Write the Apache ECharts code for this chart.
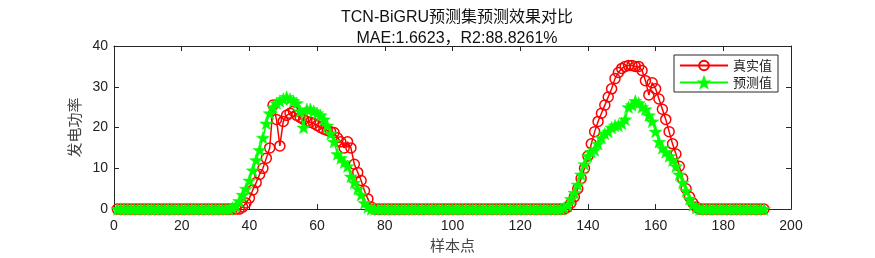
<!DOCTYPE html>
<html>
<head>
<meta charset="utf-8">
<script src="https://cdn.jsdelivr.net/npm/echarts@6/dist/echarts.min.js"></script>
<style>html,body{margin:0;padding:0;background:#fff}#c{width:875px;height:258px}</style>
</head>
<body>
<div id="c"></div>
<script>
const titleText = 'TCN-BiGRU预测集预测效果对比';
const subText = 'MAE:1.6623，R2:88.8261%';
const xName = '样本点';
const yName = '发电功率';
const seriesNames = ['真实值', '预测值'];
const xTicks = [0, 20, 40, 60, 80, 100, 120, 140, 160, 180, 200];
const yTicks = [0, 10, 20, 30, 40];

const trueVals = [
  0,0,0,0,0,0,0,0,0,0, 0,0,0,0,0,0,0,0,0,0, 0,0,0,0,0,0,0,0,0,0, 0,0,0,0,0,0,0,
  0.5,1.5,2.7,4.7,6.5,8.5,10,12.5,15,25.5,22,15.5,21.5,23,23.5,24,23,22.5,22,21.5,
  21.3,21,20.5,20,19.6,19.3,19,18.8,17.5,16.5,15,16.5,15,11,9,7,4.5,2.5,0.5,
  0,0,0,0,0,0,0,0,0,0, 0,0,0,0,0,0,0,0,0,0, 0,0,0,0,0,0,0,0,0,0, 0,0,0,0,0,0,0,0,0,0, 0,0,0,0,0,0,0,0,0,0, 0,0,0,0,0,0,0,
  0.5,1.5,3,5,7.5,10,13,16,19,21.5,23.5,25.5,27.5,29.5,32,33.5,34.5,35,35.2,35.2,
  35,35,34,31.5,28,31,29.5,27,24.5,22,19,16,13.5,10.5,7.5,5,3,1.5,0.5,
  0,0,0,0,0,0,0,0,0,0, 0,0,0,0,0,0,0,0,0,0
];
const predVals = [
  0,0,0,0,0,0,0,0,0,0, 0,0,0,0,0,0,0,0,0,0, 0,0,0,0,0,0,0,0,0,0, 0,0,0,0,
  0.3,0.8,2,3.5,5,7,9.5,12,14.5,17.5,21,23.5,25,26,26.5,27,27.5,27,26.5,26,
  24,20,24.5,24.5,24,23.5,23,22,20.5,18.5,16.5,13.5,12.5,11.5,10.5,8,6.5,5,3.5,1.5,0.5,
  0,0,0,0,0,0,0,0,0,0, 0,0,0,0,0,0,0,0,0,0, 0,0,0,0,0,0,0,0,0,0, 0,0,0,0,0,0,0,0,0,0, 0,0,0,0,0,0,0,0,0,0, 0,0,0,0,0,0,0,
  0.3,1,2.5,4,6,8.5,11,13,14,14.5,16,17.5,18.5,19,20,20.5,20.5,21,22,25,
  25.5,26.5,26,25,24.5,23,21.5,19,16.5,15,14,13,12,10.5,8.5,6.5,4.5,2.5,1,0.3,
  0,0,0,0,0,0,0,0,0,0, 0,0,0,0,0,0,0,0,0,0
];

const toPts = arr => arr.map((v, i) => [i + 1, v]);
const axisColor = '#262626';
const starPath = 'path://M0,-10L2.35,-3.24L9.51,-3.09L3.8,1.24L5.88,8.09L0,4L-5.88,8.09L-3.8,1.24L-9.51,-3.09L-2.35,-3.24Z';
const font = '"Liberation Sans", Arial, "Noto Sans CJK SC", sans-serif';
const cjk = '"Noto Sans CJK SC", sans-serif';

const chart = echarts.init(document.getElementById('c'), null, {renderer: 'canvas'});
const xBase = {
  type: 'value', min: xTicks[0], max: xTicks[xTicks.length - 1], interval: 20,
  axisLine: {show: true, onZero: false, lineStyle: {color: axisColor, width: 1}},
  axisTick: {show: true, inside: true, length: 5, lineStyle: {color: axisColor}},
  splitLine: {show: false}
};
const yBase = {
  type: 'value', min: yTicks[0], max: yTicks[yTicks.length - 1], interval: 10,
  axisLine: {show: true, onZero: false, lineStyle: {color: axisColor, width: 1}},
  axisTick: {show: true, inside: true, length: 5, lineStyle: {color: axisColor}},
  splitLine: {show: false}
};
chart.setOption({
  animation: false,
  backgroundColor: '#fff',
  textStyle: {fontFamily: font},
  title: {
    text: titleText + '\n' + subText,
    left: 452, top: 2, textAlign: 'center',
    textStyle: {fontSize: 16, fontWeight: 'normal', color: '#111', lineHeight: 21, fontFamily: font}
  },
  grid: {left: 114, right: 84, top: 46, bottom: 47, containLabel: false},
  legend: {
    data: seriesNames,
    orient: 'vertical', left: 674, top: 55,
    padding: [4, 6, 3, 5], itemGap: 4, itemWidth: 48, itemHeight: 12,
    borderColor: axisColor, borderWidth: 1, borderRadius: 0, backgroundColor: '#fff',
    textStyle: {fontSize: 13, color: '#222', fontFamily: cjk}
  },
  xAxis: [
    Object.assign({}, xBase, {
      position: 'bottom', name: xName, nameLocation: 'middle', nameGap: 28,
      nameTextStyle: {fontSize: 15, color: '#444', fontFamily: cjk},
      axisLabel: {show: true, margin: 10, fontSize: 14, color: '#222'}
    }),
    Object.assign({}, xBase, {position: 'top', axisLabel: {show: false}})
  ],
  yAxis: [
    Object.assign({}, yBase, {
      position: 'left', name: yName, nameLocation: 'middle', nameGap: 20, nameRotate: 90,
      nameTextStyle: {fontSize: 15, color: '#444', fontFamily: cjk},
      axisLabel: {show: true, margin: 6, fontSize: 14, color: '#222'}
    }),
    Object.assign({}, yBase, {position: 'right', axisLabel: {show: false}})
  ],
  series: [
    {
      name: seriesNames[0], type: 'line', data: toPts(trueVals),
      xAxisIndex: 0, yAxisIndex: 0,
      symbol: 'circle', symbolSize: 10, showAllSymbol: true,
      itemStyle: {color: 'rgba(255,255,255,0)', borderColor: '#ff0000', borderWidth: 1.5},
      lineStyle: {color: '#ff0000', width: 1.5},
      z: 2
    },
    {
      name: seriesNames[1], type: 'line', data: toPts(predVals),
      xAxisIndex: 0, yAxisIndex: 0,
      symbol: starPath, symbolKeepAspect: true, symbolSize: 13, showAllSymbol: true,
      itemStyle: {color: '#00ff00', borderColor: '#00ff00', borderWidth: 0.5},
      lineStyle: {color: '#00ff00', width: 1.5},
      z: 3
    }
  ]
});
</script>
</body>
</html>
